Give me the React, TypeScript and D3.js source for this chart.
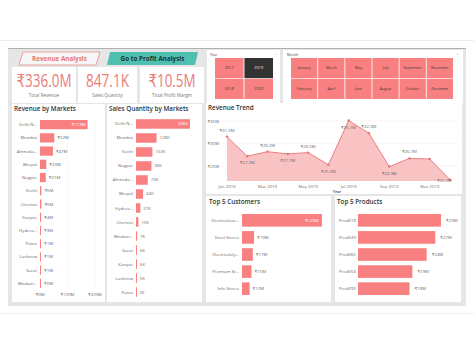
import React from "react";
import * as d3 from "d3";

// ---------- DATA ----------
const kpiValues = ["₹336.0M", "847.1K", "₹10.5M"];
const kpiLabels = ["Total Revenue", "Sales Quantity", "Total Profit Margin"];

const years = ["2017", "2018", "2019", "2020"];
const selectedYear = "2019";
const months = [
  "January", "February", "March", "April", "May", "June",
  "July", "August", "September", "October", "November", "December",
];

const revMarkets = [
  "Delhi NCR", "Mumbai", "Ahmedabad", "Bhopal", "Nagpur", "Kochi", "Chennai",
  "Kanpur", "Hyderabad", "Patna", "Lucknow", "Surat", "Bhubaneshwar",
];
const revValues = [173, 52, 47, 23, 21, 5, 5, 4, 3, 1, 1, 1, 0.4];
const revTicks = [0, 100, 200];

const qtyMarkets = [
  "Delhi NCR", "Mumbai", "Kochi", "Nagpur", "Ahmedabad", "Bhopal", "Hyderabad",
  "Chennai", "Bhubaneshwar", "Surat", "Kanpur", "Lucknow", "Patna",
];
const qtyValues = [336, 128, 102, 96, 73, 44, 27, 15, 7, 6, 6, 5, 2];

const trendMonths = ["Jan", "Feb", "Mar", "Apr", "May", "Jun", "Jul", "Aug", "Sep", "Oct", "Nov", "Dec"];
const trendValues = [31.5, 27.2, 28.2, 27.7, 28.0, 25.3, 35.1, 32.3, 24.9, 26.7, 26.6, 22.0];
const trendLabelSide = ["up", "down", "up", "down", "up", "down", "down", "up", "down", "up", "none", "end"];
const trendTicks = [25, 30, 35];
const trendAxisMonths = ["Jan", "Mar", "May", "Jul", "Sep", "Nov"];

const customers = ["Electricalsara Stores", "Excel Stores", "Electricalslytical", "Premium Stores", "Info Stores"];
const customerValues = [126, 19, 17, 15, 12];

const products = ["Prod018", "Prod049", "Prod065", "Prod053", "Prod090"];
const productValues = [29, 27, 24, 19, 18];

// ---------- STYLE ----------
const FONT = "'Open Sans', 'DejaVu Sans', sans-serif";
const SALMON = "#f98080";
const LABEL = "#6a6a6a";

const shortName = (n: string) =>
  n.length <= 8 ? n : n.slice(0, n.indexOf(" ") > 0 ? 7 : 6) + "...";
const shortCust = (n: string) => (n.length <= 12 ? n : n.slice(0, n.startsWith("Premium") ? 10 : 13) + "...");

function Panel({ x, y, w, h, title }: { x: number; y: number; w: number; h: number; title?: string }) {
  return (
    <g>
      <rect x={x} y={y} width={w} height={h} fill="#fff" />
      {title && (
        <text x={x + 2} y={y + 7} fontSize={6.3} fontWeight={600} fill="#333">
          {title}
        </text>
      )}
    </g>
  );
}

export default function App() {
  const W = 474, H = 355;

  // Revenue by markets
  const rx = d3.scaleLinear().domain([0, 200]).range([40, 95]);
  const ry = d3.scaleBand<string>().domain(revMarkets).range([120, 288]).paddingInner(0.3);

  // Sales quantity
  const qx = d3.scaleLinear().domain([0, 336]).range([136, 190]);
  const qy = d3.scaleBand<string>().domain(qtyMarkets).range([119.2, 296.8]).paddingInner(0.32);

  // Trend
  const tx = d3.scalePoint<string>().domain(trendMonths).range([227, 450]);
  const ty = d3.scaleLinear().domain([21.7, 35]).range([181, 121]);
  const area = d3.area<number>().x((_, i) => tx(trendMonths[i])!).y0(ty(21.7)).y1((d) => ty(d));
  const line = d3.line<number>().x((_, i) => tx(trendMonths[i])!).y((d) => ty(d));

  // Customers
  const cx = d3.scaleLinear().domain([0, 126]).range([242, 322]);
  const cy = d3.scaleBand<string>().domain(customers).range([214, 295]).paddingInner(0.26);

  // Products
  const px = d3.scaleLinear().domain([0, 29]).range([358, 441]);
  const py = d3.scaleBand<string>().domain(products).range([214, 295]).paddingInner(0.26);

  // Slicers
  const yrX = d3.scaleBand<number>().domain([0, 1]).range([215, 273]).paddingInner(0.03);
  const yrY = d3.scaleBand<number>().domain([0, 1]).range([58, 99]).paddingInner(0.03);
  const moX = d3.scaleBand<number>().domain(d3.range(6)).range([291, 453]).paddingInner(0.03);

  const kpiCards = [
    { x: 12, w: 64 },
    { x: 78, w: 59 },
    { x: 140, w: 64 },
  ];
  const kpiWidths = [55, 43, 47];

  return (
    <svg
      width={W}
      height={H}
      style={{ position: "absolute", left: 0, top: 0, background: "#fff" }}
      fontFamily={FONT}
    >
      <rect width={W} height={H} fill="#fff" />
      <line x1={0} x2={W} y1={40.5} y2={40.5} stroke="#ececec" />
      <line x1={0} x2={W} y1={313.5} y2={313.5} stroke="#f0f0f0" />
      <rect x={8} y={48} width={458} height={258} fill="#e6e6e6" />
      <line x1={8} x2={466} y1={48.5} y2={48.5} stroke="#b0b0b0" />

      {/* Buttons */}
      <polygon points="19,65 23,52 100,52 96,65" fill="#f7f7f7" stroke="#ee8a8a" strokeWidth={0.8} />
      <text x={59.5} y={61} textAnchor="middle" fontSize={6.3} fontWeight={700} fill="#e57676">
        Revenue Analysis
      </text>
      <polygon points="107,65 110,52 198,52 195,65" fill="#4fbfb0" />
      <text x={152.5} y={61} textAnchor="middle" fontSize={6.3} fontWeight={700} fill="#1f3532">
        Go to Profit Analysis
      </text>

      {/* KPI cards */}
      {kpiCards.map((c, i) => (
        <g key={i}>
          <rect x={c.x} y={67} width={c.w} height={36} fill="#fff" />
          <text
            x={c.x + c.w / 2}
            y={87}
            textAnchor="middle"
            fontSize={18}
            fill="#ec7b7b"
            textLength={kpiWidths[i]}
            lengthAdjust="spacingAndGlyphs"
          >
            {kpiValues[i]}
          </text>
          <text x={c.x + c.w / 2} y={97} textAnchor="middle" fontSize={4.6} fill="#777">
            {kpiLabels[i]}
          </text>
        </g>
      ))}

      {/* Year slicer */}
      <rect x={207} y={50} width={73} height={53} fill="#fff" />
      <text x={210} y={55.5} fontSize={3.6} fill="#444">Year</text>
      <polyline points="274,53.5 275.2,54.7 276.4,53.5" fill="none" stroke="#999" strokeWidth={0.4} />
      {years.map((yr, i) => {
        const col = Math.floor(i / 2), row = i % 2;
        const sel = yr === selectedYear;
        return (
          <g key={yr}>
            <rect x={yrX(col)} y={yrY(row)} width={yrX.bandwidth()} height={yrY.bandwidth()} fill={sel ? "#333333" : SALMON} />
            <text
              x={yrX(col)! + yrX.bandwidth() / 2}
              y={yrY(row)! + yrY.bandwidth() / 2 + 1.4}
              textAnchor="middle"
              fontSize={3.9}
              fill={sel ? "#f2f2f2" : "#3a3a3a"}
            >
              {yr}
            </text>
          </g>
        );
      })}

      {/* Month slicer */}
      <rect x={283} y={50} width={180} height={53} fill="#fff" />
      <text x={287} y={55.5} fontSize={3.6} fill="#444">Month</text>
      <polyline points="456,53.5 457.2,54.7 458.4,53.5" fill="none" stroke="#999" strokeWidth={0.4} />
      {months.map((m, i) => {
        const col = Math.floor(i / 2), row = i % 2;
        return (
          <g key={m}>
            <rect x={moX(col)} y={yrY(row)} width={moX.bandwidth()} height={yrY.bandwidth()} fill={SALMON} />
            <text
              x={moX(col)! + moX.bandwidth() / 2}
              y={yrY(row)! + yrY.bandwidth() / 2 + 1.4}
              textAnchor="middle"
              fontSize={3.6}
              fill="#3a3a3a"
            >
              {m}
            </text>
          </g>
        );
      })}

      {/* Revenue by Markets */}
      <Panel x={12} y={104} w={93} h={198} title="Revenue by Markets" />
      {revTicks.slice(1).map((t) => (
        <line key={t} x1={rx(t)} x2={rx(t)} y1={118} y2={289} stroke="#f0f0f0" strokeWidth={0.6} />
      ))}
      {revMarkets.map((m, i) => {
        const v = revValues[i];
        const y = ry(m)!;
        const bw = ry.bandwidth();
        const inside = i === 0;
        return (
          <g key={m}>
            <text x={37} y={y + bw / 2 + 1.5} textAnchor="end" fontSize={4.3} fill={LABEL}>
              {shortName(m)}
            </text>
            <rect x={rx(0)} y={y} width={Math.max(rx(v) - rx(0), 1)} height={bw} fill={SALMON} />
            <text
              x={inside ? rx(v) - 2 : Math.max(rx(v), rx(0) + 1) + 3}
              y={y + bw / 2 + 1.5}
              textAnchor={inside ? "end" : "start"}
              fontSize={4.3}
              fill={inside ? "#fff" : LABEL}
            >
              {`₹${Math.round(v)}M`}
            </text>
          </g>
        );
      })}
      {revTicks.map((t) => (
        <text key={t} x={rx(t)} y={296} textAnchor="middle" fontSize={4.3} fill={LABEL}>
          {`₹${t}M`}
        </text>
      ))}

      {/* Sales Quantity by Markets */}
      <Panel x={107} y={104} w={95} h={198} title="Sales Quantity by Markets" />
      {qtyMarkets.map((m, i) => {
        const v = qtyValues[i];
        const y = qy(m)!;
        const bw = qy.bandwidth();
        const inside = i === 0;
        return (
          <g key={m}>
            <text x={133} y={y + bw / 2 + 1.5} textAnchor="end" fontSize={4.3} fill={LABEL}>
              {shortName(m)}
            </text>
            <rect x={qx(0)} y={y} width={Math.max(qx(v) - qx(0), 1)} height={bw} fill={SALMON} />
            <text
              x={inside ? qx(v) - 2 : qx(v) + 3}
              y={y + bw / 2 + 1.5}
              textAnchor={inside ? "end" : "start"}
              fontSize={4.3}
              fill={inside ? "#fff" : LABEL}
            >
              {`${v}K`}
            </text>
          </g>
        );
      })}

      {/* Revenue Trend */}
      <Panel x={206} y={103} w={256} h={91} title="Revenue Trend" />
      {trendTicks.map((t) => (
        <g key={t}>
          <line x1={222} x2={458} y1={ty(t)} y2={ty(t)} stroke="#f0f0f0" strokeWidth={0.6} />
          <text x={219} y={ty(t) + 1.5} textAnchor="end" fontSize={4.3} fill={LABEL}>
            {`₹${t}M`}
          </text>
        </g>
      ))}
      <path d={area(trendValues)!} fill="#f9c3c3" />
      <path d={line(trendValues)!} fill="none" stroke="#e8747a" strokeWidth={0.9} />
      {trendValues.map((v, i) => {
        const x = tx(trendMonths[i])!;
        const y = ty(v);
        const side = trendLabelSide[i];
        return (
          <g key={i}>
            <circle cx={x} cy={y} r={1.2} fill="#e8747a" />
            {side !== "none" && (
              <text
                x={side === "end" ? x + 2 : x}
                y={side === "up" ? y - 5 : side === "down" ? y + 8 : y + 2}
                textAnchor={side === "end" ? "end" : "middle"}
                fontSize={4.3}
                fill={LABEL}
              >
                {`₹${v.toFixed(1)}M`}
              </text>
            )}
          </g>
        );
      })}
      {trendAxisMonths.map((m) => (
        <text key={m} x={tx(m)} y={187.5} textAnchor="middle" fontSize={4.3} fill={LABEL}>
          {`${m} 2019`}
        </text>
      ))}
      <text x={337} y={192.5} textAnchor="middle" fontSize={3.8} fontWeight={600} fill="#444">
        Year
      </text>

      {/* Top 5 Customers */}
      <Panel x={206} y={196} w={125} h={106} />
      <text x={209} y={204} fontSize={6.3} fontWeight={600} fill="#333">Top 5 Customers</text>
      {customers.map((c, i) => {
        const v = customerValues[i];
        const y = cy(c)!;
        const bw = cy.bandwidth();
        const inside = i === 0;
        return (
          <g key={c}>
            <text x={239} y={y + bw / 2 + 1.5} textAnchor="end" fontSize={4.3} fill={LABEL}>
              {shortCust(c)}
            </text>
            <rect x={cx(0)} y={y} width={cx(v) - cx(0)} height={bw} fill={SALMON} />
            <text
              x={inside ? cx(v) - 3 : cx(v) + 3}
              y={y + bw / 2 + 1.5}
              textAnchor={inside ? "end" : "start"}
              fontSize={4.3}
              fill={inside ? "#fff" : LABEL}
            >
              {`₹${v}M`}
            </text>
          </g>
        );
      })}

      {/* Top 5 Products */}
      <Panel x={335} y={196} w={126} h={106} />
      <text x={337} y={204} fontSize={6.3} fontWeight={600} fill="#333">Top 5 Products</text>
      {products.map((p, i) => {
        const v = productValues[i];
        const y = py(p)!;
        const bw = py.bandwidth();
        return (
          <g key={p}>
            <text x={339} y={y + bw / 2 + 1.5} fontSize={4.3} fill={LABEL}>
              {p}
            </text>
            <rect x={px(0)} y={y} width={px(v) - px(0)} height={bw} fill={SALMON} />
            <text x={px(v) + 5} y={y + bw / 2 + 1.5} fontSize={4.3} fill={LABEL}>
              {`₹${v}M`}
            </text>
          </g>
        );
      })}
    </svg>
  );
}
